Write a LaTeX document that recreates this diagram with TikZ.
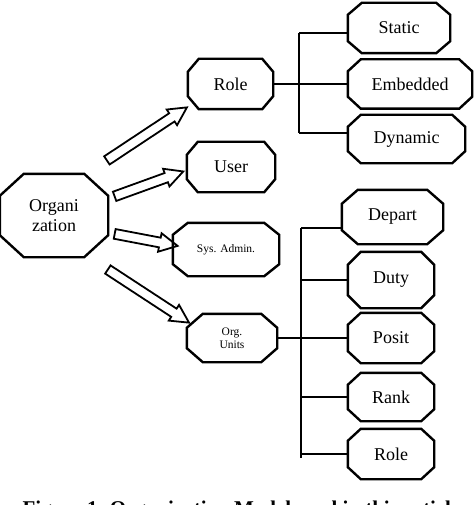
\documentclass[tikz,border=0pt]{standalone}
\usepackage{fontspec}
\setmainfont{Liberation Serif}
\usetikzlibrary{shapes.arrows}

\tikzset{
  octbox/.style 2 args={inner sep=0pt, align=center, font=\fontsize{18}{20}\selectfont,
    append after command={\pgfextra{\draw[line width=2.4pt, line join=miter]
      ([xshift=#1]\tikzlastnode.north west) -- ([xshift=-#1]\tikzlastnode.north east)
      -- ([yshift=-#2]\tikzlastnode.north east) -- ([yshift=#2]\tikzlastnode.south east)
      -- ([xshift=-#1]\tikzlastnode.south east) -- ([xshift=#1]\tikzlastnode.south west)
      -- ([yshift=#2]\tikzlastnode.south west) -- ([yshift=-#2]\tikzlastnode.north west) -- cycle;}}},
  small/.style={font=\fontsize{11.5}{13}\selectfont},
  blockarrow/.style={single arrow, draw, line width=1.8pt, line join=miter, inner xsep=0pt, inner ysep=4pt,
    single arrow head extend=4.5pt, single arrow tip angle=55, sloped},
  link/.style={line width=2pt}
}

\begin{document}
\begin{tikzpicture}[x=1pt, y=-1pt]
  \useasboundingbox (0,0) rectangle (474,505);

  % Root
  \node[octbox={24pt}{22pt}, minimum width=108pt, minimum height=83pt] (org) at (54,215.5) {Organi\\zation};

  % Middle column
  \node[octbox={11pt}{13pt}, minimum width=85pt, minimum height=50pt] (role) at (230.5,84) {Role};
  \node[octbox={11pt}{13pt}, minimum width=88pt, minimum height=50pt] (user) at (231,167) {User};
  \node[octbox={15pt}{12pt}, small, minimum width=106pt, minimum height=53pt] (sysadm) at (226,249.5) {Sys. Admin.};
  \node[octbox={16pt}{14pt}, small, minimum width=90pt, minimum height=48pt] (orgunits) at (232,338) {Org.\\Units};

  % Branch of Role
  \node[octbox={14pt}{12pt}, minimum width=102pt, minimum height=50pt] (static) at (399,28) {Static};
  \node[octbox={13pt}{12pt}, minimum width=124pt, minimum height=49pt] (embedded) at (410,84) {Embedded};
  \node[octbox={13pt}{12pt}, minimum width=117pt, minimum height=48pt] (dynamic) at (406.5,139) {Dynamic};

  % Branch of Org. Units
  \node[octbox={16pt}{14pt}, minimum width=101pt, minimum height=54pt] (depart) at (392.5,217) {Depart};
  \node[octbox={13pt}{13pt}, minimum width=86pt, minimum height=56pt] (duty) at (391,280) {Duty};
  \node[octbox={13pt}{12pt}, minimum width=86pt, minimum height=50pt] (posit) at (391,338) {Posit};
  \node[octbox={13pt}{12pt}, minimum width=86pt, minimum height=48pt] (rank) at (391,397) {Rank};
  \node[octbox={13pt}{12pt}, minimum width=86pt, minimum height=50pt] (rolex) at (391,454) {Role};

  % Block arrows
  \coordinate (t1) at (103,163); \coordinate (h1) at (183,110);
  \coordinate (t2) at (110,198); \coordinate (h2) at (179,173);
  \coordinate (t3) at (110,233); \coordinate (h3) at (173,245);
  \coordinate (t4) at (104,267); \coordinate (h4) at (185,320);
  \path (t1) -- node[blockarrow, minimum height=96pt] (a1) {} (h1);
  \path (t2) -- node[blockarrow, minimum height=73pt] (a2) {} (h2);
  \path (t3) -- node[blockarrow, minimum height=64pt] (a3) {} (h3);
  \path (t4) -- node[blockarrow, minimum height=97pt] (a4) {} (h4);

  % Edges
  \coordinate (rtop) at (299,33);
  \coordinate (rbot) at (299,133);
  \draw[link] (rtop) -- (rbot);
  \draw[link] (rtop) -- (rtop -| static.west);
  \draw[link] (role.east) -- (embedded.west);
  \draw[link] (rbot) -- (rbot -| dynamic.west);

  \coordinate (otop) at (301,228);
  \coordinate (obot) at (301,458);
  \draw[link] (otop) -- (obot);
  \draw[link] (otop) -- (otop -| depart.west);
  \draw[link] (duty.west -| otop) -- (duty.west);
  \draw[link] (orgunits.east) -- (posit.west);
  \draw[link] (rank.west -| otop) -- (rank.west);
  \draw[link] (rolex.west -| otop) -- (rolex.west);

  % Caption
  \node[font=\bfseries\fontsize{21}{24}\selectfont, anchor=base, inner sep=0pt] (caption) at (241.5,515) {Figure 1. Organization Model used in this article};
\end{tikzpicture}
\end{document}
